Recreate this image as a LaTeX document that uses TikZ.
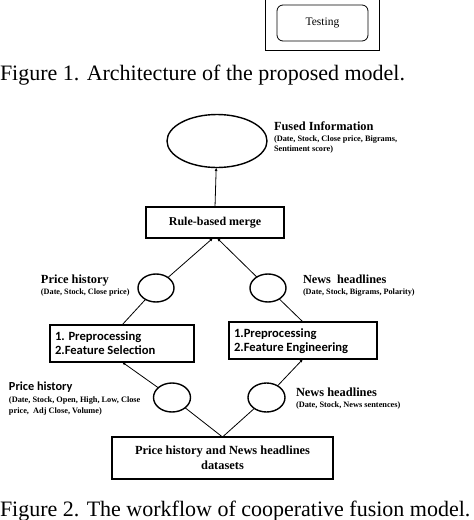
\documentclass[tikz,border=0pt]{standalone}
\usepackage{fontspec}
\setmainfont{Liberation Serif}
\setsansfont{Carlito}
\usetikzlibrary{arrows.meta,shapes.geometric}

\tikzset{blk/.style={draw, rectangle, line width=1.1pt, inner sep=0pt},
         oval/.style={draw, ellipse, line width=1.4pt, inner sep=0pt},
         lnk/.style={line width=0.8pt},
         arr/.style={line width=0.8pt, -{Latex[length=3.5pt,width=3pt]}}}

\begin{document}
\begin{tikzpicture}[x=1pt, y=-1pt]
\tikzstyle{every node}=[inner sep=0pt, outer sep=0pt]
\useasboundingbox (0,0) rectangle (474,520);
% figure 1 remainder
\node[blk, line width=0.8pt, minimum width=114pt, minimum height=64pt] (fig1) at (322,18) {};
\node[draw, rounded corners=6pt, line width=0.8pt, minimum width=91pt, minimum height=36pt,
      font=\fontsize{11.5}{13}\selectfont] (test) at (322.5,23) {Testing};
\node[anchor=base west, font=\fontsize{22}{26}\selectfont] (cap1) at (0,80)
  {Figure 1. Architecture of the proposed model.};
% figure 2
\node[oval, minimum width=100pt, minimum height=53pt] (fused) at (217,141) {};
\node[anchor=base west, font=\fontsize{12.4}{14}\selectfont\bfseries] (fusedt) at (274,130) {Fused Information};
\node[anchor=base west, font=\fontsize{8.3}{10}\selectfont\bfseries] (fuseds1) at (274,141) {(Date, Stock, Close price, Bigrams,};
\node[anchor=base west, font=\fontsize{8.3}{10}\selectfont\bfseries] (fuseds2) at (274,151) {Sentiment score)};
\node[blk, minimum width=138pt, minimum height=31pt, font=\fontsize{12}{14}\selectfont\bfseries] (rule) at (215,222.5) {Rule-based merge};
\node[oval, minimum width=36pt, minimum height=28pt] (pc2) at (156,288) {};
\node[oval, minimum width=36pt, minimum height=28pt] (nc2) at (268,288) {};
\node[anchor=base west, font=\fontsize{12.4}{14}\selectfont\bfseries] (pt2) at (41,283) {Price history};
\node[anchor=base west, font=\fontsize{8.2}{10}\selectfont\bfseries] (ps2) at (41,294) {(Date, Stock, Close price)};
\node[anchor=base west, font=\fontsize{12.3}{14}\selectfont\bfseries] (nt2) at (303,283) {News\ \ headlines};
\node[anchor=base west, font=\fontsize{8.2}{10}\selectfont\bfseries] (ns2) at (303,294) {(Date, Stock, Bigrams, Polarity)};
\node[blk, minimum width=144pt, minimum height=37pt] (pbox) at (122,343.5) {};
\node[anchor=base west, font=\sffamily\fontsize{12.6}{14}\selectfont\bfseries] (pb1) at (55,340) {1. Preprocessing};
\node[anchor=base west, font=\sffamily\fontsize{12.6}{14}\selectfont\bfseries] (pb2) at (55,354) {2.Feature Selection};
\node[blk, minimum width=148pt, minimum height=37pt] (nbox) at (303,340.5) {};
\node[anchor=base west, font=\sffamily\fontsize{12.6}{14}\selectfont\bfseries] (nb1) at (234,337) {1.Preprocessing};
\node[anchor=base west, font=\sffamily\fontsize{12.6}{14}\selectfont\bfseries] (nb2) at (234,351) {2.Feature Engineering};
\node[oval, minimum width=37pt, minimum height=29pt] (pc1) at (172,397.5) {};
\node[oval, minimum width=37pt, minimum height=29pt] (nc1) at (266.5,397.5) {};
\node[anchor=base west, font=\sffamily\fontsize{12.3}{14}\selectfont\bfseries] (pt1) at (9,390) {Price history};
\node[anchor=base west, font=\fontsize{8.3}{10}\selectfont\bfseries] (ps1a) at (9,402) {(Date, Stock, Open, High, Low, Close};
\node[anchor=base west, font=\fontsize{8.3}{10}\selectfont\bfseries] (ps1b) at (9,413) {price,\ \ Adj Close, Volume)};
\node[anchor=base west, font=\fontsize{12.4}{14}\selectfont\bfseries] (nt1) at (296,396) {News headlines};
\node[anchor=base west, font=\fontsize{8.3}{10}\selectfont\bfseries] (ns1) at (296,407) {(Date, Stock, News sentences)};
\node[blk, minimum width=221pt, minimum height=42pt] (data) at (222.5,458) {};
\node[anchor=base, font=\fontsize{12.4}{14}\selectfont\bfseries] (dt1) at (222.5,454) {Price history and News headlines};
\node[anchor=base, font=\fontsize{12.4}{14}\selectfont\bfseries] (dt2) at (222.5,469) {datasets};
\node[anchor=base west, font=\fontsize{22}{26}\selectfont] (cap2) at (0,516)
  {Figure 2. The workflow of cooperative fusion model.};
% connectors
\draw[lnk] (data.north) -- (pc1);
\draw[lnk] (data.north) -- (nc1);
\draw[arr] (pc1) -- (pbox.south);
\draw[arr] (nc1) -- (nbox.south);
\draw[lnk] (pbox.north) -- (pc2);
\draw[lnk] (nbox.north) -- (nc2);
\draw[arr] (pc2) -- ([xshift=-2pt]rule.south);
\draw[arr] (nc2) -- ([xshift=2pt]rule.south);
\draw[arr] (rule.north) -- (fused);
\end{tikzpicture}
\end{document}
